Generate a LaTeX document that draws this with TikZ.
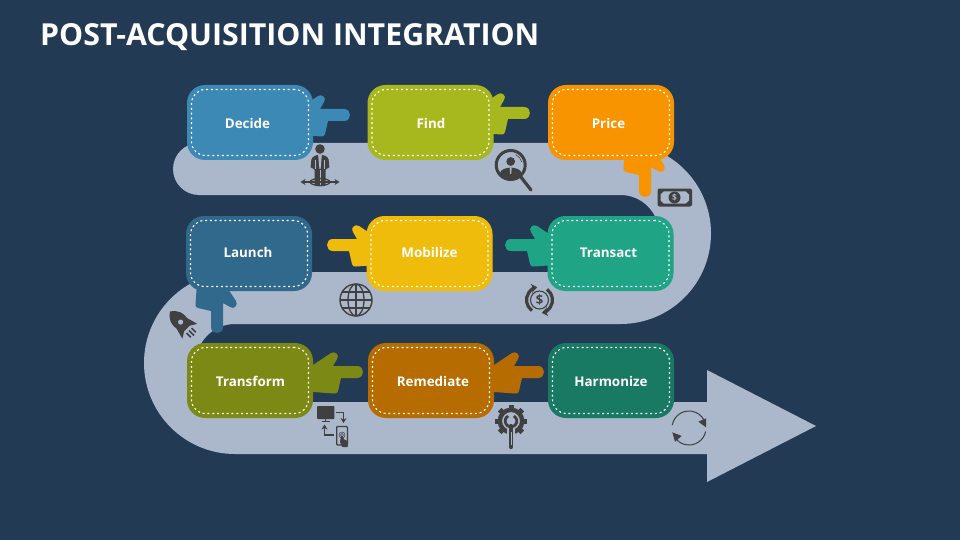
\documentclass[tikz,border=0pt]{standalone}
\usepackage{fontspec}
\setmainfont{Open Sans}
\usetikzlibrary{arrows.meta}
\definecolor{bgc}{HTML}{233A55}
\definecolor{rib}{HTML}{ABB7CB}
\definecolor{ico}{HTML}{404040}
\definecolor{cDecide}{HTML}{3D89B5}
\definecolor{cFind}{HTML}{A6B81E}
\definecolor{cPrice}{HTML}{F79400}
\definecolor{cLaunch}{HTML}{31698C}
\definecolor{cMobilize}{HTML}{F0BC0B}
\definecolor{cTransact}{HTML}{1FA585}
\definecolor{cTransform}{HTML}{7C8A15}
\definecolor{cRemediate}{HTML}{B76C00}
\definecolor{cHarmonize}{HTML}{187A62}
\tikzset{
  outerbox/.style={rounded corners=18pt,minimum width=126pt,minimum height=75pt,inner sep=0pt},
  innerbox/.style={draw=white,rounded corners=14pt,minimum width=117pt,minimum height=66pt,inner sep=0pt,
    line width=1.1pt,dash pattern=on 2pt off 2.8pt},
  cardtext/.style={inner sep=0pt,text=white,font=\fontsize{13.4}{16}\selectfont\bfseries},
  ptr/.tip={Stealth[length=5pt,width=6pt]}
}
\newcommand{\myhand}[4]{%
  \begin{scope}[shift={(#3)},x={#1},y={#2}]
  \fill[#4] (0,-7) -- (18,-19) .. controls (22,-21.5) and (27,-17) .. (24,-13) -- (20,-6) -- (44,-6)
   .. controls (52,-6) and (52,6) .. (44,6) -- (28,6) -- (25,19) .. controls (24.5,21) and (23,22) .. (21,21.5) -- (0,20) -- cycle;
  \end{scope}}
\newcommand{\stepcard}[7]{%
  \node[outerbox,fill=#4] (#1) at (#2,#3) {};
  \node[innerbox] (#1-in) at (#2,#3) {};
  \node[cardtext] (#1-label) at (#6,#7) {#5};}
\begin{document}
\begin{tikzpicture}[x=1pt,y=-1pt]
\useasboundingbox (0,0) rectangle (960,540);
\fill[bgc] (0,0) rectangle (960,540);
\node[anchor=base west,inner sep=0pt,text=white,font=\fontsize{30.3}{36}\selectfont\bfseries] (title) at (40,46) {POST-ACQUISITION INTEGRATION};
% ribbon
\fill[rib] (199,143) -- (620.5,143) arc[start angle=90,end angle=-90,radius=90.5pt]
  -- (235,324) arc[start angle=90,end angle=270,radius=39pt]
  -- (707,402) -- (707,370) -- (816,426) -- (707,482) -- (707,454)
  -- (235,454) arc[start angle=270,end angle=90,radius=91pt]
  -- (620.5,272) arc[start angle=-90,end angle=90,radius=38.5pt]
  -- (199,195) arc[start angle=270,end angle=90,radius=26pt] -- cycle;
% hands
\myhand{(1pt,0pt)}{(0pt,-1pt)}{300,115}{cDecide}
\myhand{(1pt,0pt)}{(0pt,-1pt)}{480,113}{cFind}
\myhand{(0pt,-1pt)}{(-1pt,0pt)}{645,147}{cPrice}
\myhand{(0pt,-1pt)}{(-1pt,0pt)}{217,283}{cLaunch}
\myhand{(-1pt,0pt)}{(0pt,-1pt)}{377,245}{cMobilize}
\myhand{(-1pt,0pt)}{(0pt,-1pt)}{555,245}{cTransact}
\myhand{(1pt,0pt)}{(0pt,-1pt)}{313,372}{cTransform}
\myhand{(1pt,0pt)}{(0pt,-1pt)}{494,372}{cRemediate}
% cards
\stepcard{decide}{250}{122.5}{cDecide}{Decide}{247.5}{123.5}
\stepcard{find}{430.5}{122.5}{cFind}{Find}{431}{123.5}
\stepcard{price}{611}{122.5}{cPrice}{Price}{608.5}{123.5}
\stepcard{launch}{249}{253.5}{cLaunch}{Launch}{248}{252.5}
\stepcard{mobilize}{429.5}{253.5}{cMobilize}{Mobilize}{429.5}{252.5}
\stepcard{transact}{610.5}{253.5}{cTransact}{Transact}{608.5}{252.5}
\stepcard{transform}{250}{380.5}{cTransform}{Transform}{250.5}{381.5}
\stepcard{remediate}{431}{380.5}{cRemediate}{Remediate}{433}{381.5}
\stepcard{harmonize}{611}{380.5}{cHarmonize}{Harmonize}{611}{381.5}
% person icon
\fill[ico] (320,149) circle[radius=4.8pt];
\fill[ico,rounded corners=1.5pt] (310.5,168.5) -- (311.5,158) -- (316,155) -- (324,155) -- (328.5,158) -- (329.5,168.5) -- (325.5,168.5) -- (325.5,186) -- (314.5,186) -- (314.5,168.5) -- cycle;
\draw[rib,line width=.9pt] (315.3,160) -- (315.3,169) (324.7,160) -- (324.7,169) (320,170) -- (320,186);
\fill[rib] (318.2,155) -- (321.8,155) -- (320.6,169) -- (319.4,169) -- cycle;
\draw[ico,line width=1.3pt] (320,182) ellipse[x radius=10pt,y radius=3.5pt];
\draw[ico,line width=1.2pt,ptr-ptr] (300.5,182) -- (339.5,182);
% magnifier icon
\begin{scope}
  \clip (510.7,165) circle[radius=14.5pt];
  \fill[ico] (510.7,161.5) circle[radius=4.4pt];
  \fill[ico] (500,182) -- (500,173) .. controls (501,169.5) and (505,168) .. (510.7,167.5) .. controls (516.5,168) and (520.5,169.5) .. (521.5,173) -- (521.5,182) -- cycle;
\end{scope}
\fill[rib] (509.7,167.5) -- (511.7,167.5) -- (511.2,174) -- (510.2,174) -- cycle;
\draw[ico,line width=3pt] (510.7,165) circle[radius=14.5pt];
\draw[ico,line width=3.2pt,line cap=round] (520.5,176.5) -- (531,190);
\draw[ico,line width=.6pt] (510.7,165) ++(15:11.5pt) arc[start angle=15,end angle=65,radius=11.5pt];
% money icon
\fill[ico,rounded corners=2pt] (657.5,188.5) rectangle (692,206.5);
\fill[rib] (664,191.3) -- (685.5,191.3) -- (689,194.5) -- (689,200.5) -- (685.5,203.7) -- (664,203.7) -- (660.5,200.5) -- (660.5,194.5) -- cycle;
\node[circle,fill=ico,text=rib,inner sep=0pt,minimum size=12pt,font=\fontsize{8.5}{9}\selectfont\bfseries] (moneysign) at (674.5,197.5) {\$};
% globe icon
\draw[ico,line width=1.4pt] (356,300) circle[radius=16pt];
\draw[ico,line width=1.3pt] (356,300) ellipse[x radius=8pt,y radius=16pt];
\draw[ico,line width=1.3pt] (356,284) -- (356,316) (340,300) -- (372,300) (342,292) -- (370,292) (342,308) -- (370,308);
% rocket icon
\begin{scope}[shift={(170,311.5)},rotate=135,x=1pt,y=1pt]
  \fill[ico] (0,0) .. controls (-5,-7) and (-10,-8.5) .. (-17,-7.5) -- (-28,-10.5) -- (-24,-4) -- (-24,4) -- (-28,10.5) -- (-17,7.5) .. controls (-10,8.5) and (-5,7) .. (0,0) -- cycle;
  \fill[rib] (-15,0) circle[radius=2.6pt];
  \draw[ico,line width=1.5pt] (-27,-3.5) -- (-33,-3.5) (-27,0) -- (-34,0) (-27,3.5) -- (-33,3.5);
\end{scope}
% dollar cycle icon
\begin{scope}[shift={(539.5,300)},x=1pt,y=1pt]
  \draw[ico,line width=1.1pt] (0,0) circle[radius=9pt];
  \draw[ico,line width=3.2pt,-{Stealth[length=6pt,width=9pt]}] (235:13pt) arc[start angle=235,end angle=100,radius=13pt];
  \draw[ico,line width=3.2pt,-{Stealth[length=6pt,width=9pt]}] (55:13pt) arc[start angle=55,end angle=-80,radius=13pt];
  \node[text=ico,inner sep=0pt,font=\fontsize{13}{15}\selectfont\bfseries] (cycledollar) at (0,0) {\$};
\end{scope}
% monitor icon
\fill[ico,rounded corners=.8pt] (317,406) rectangle (334.3,419);
\draw[ico,line width=1.2pt] (325.5,419) -- (325.5,421.8) (322,421.8) -- (329.5,421.8);
\draw[ico,line width=1.2pt,-ptr] (336,412.5) -- (343.5,412.5) -- (343.5,423);
\draw[ico,line width=1.2pt,-ptr] (333.7,435) -- (324.5,435) -- (324.5,424.5);
\draw[ico,line width=1.4pt,rounded corners=1pt] (336.7,426.5) rectangle (347.5,445);
\draw[ico,line width=.5pt] (342,435) circle[radius=3pt] (342,435) circle[radius=1.6pt];
\fill[ico,rounded corners=.8pt] (341,436) -- (343,436) -- (343.5,439) -- (347.5,441) -- (348,447) -- (342,447) -- (340,442) -- cycle;
% gear + wrench icon
\draw[ico,line width=4.4pt] (511,421) circle[radius=11.2pt];
\foreach \a in {-45,0,45,90,135,180,225} {
  \draw[ico,line width=5pt] (511,421) ++(\a:12pt) -- ++(\a:4pt);
}
\draw[rib,line width=8pt] (511,428) -- (511,438);
\draw[ico,line width=2.8pt] (511,421) ++(120:5.8pt) arc[start angle=120,end angle=420,radius=5.8pt];
\draw[ico,line width=4.2pt,line cap=round] (511,426) -- (511,447);
\draw[rib,line width=1pt] (511,432) -- (511,445);
% cycle icon
\begin{scope}[shift={(689,428)},x=1pt,y=1pt]
  \draw[ico,line width=1pt] (170:17pt) arc[start angle=170,end angle=25,radius=17pt];
  \draw[ico,line width=1pt] (-12:17pt) arc[start angle=-12,end angle=-150,radius=17pt];
\end{scope}
\fill[ico] (706,418.3) -- (706,427.3) -- (698.3,421.7) -- cycle;
\fill[ico] (672.3,432.3) -- (681.7,436) -- (675,441.7) -- cycle;
\end{tikzpicture}
\end{document}
